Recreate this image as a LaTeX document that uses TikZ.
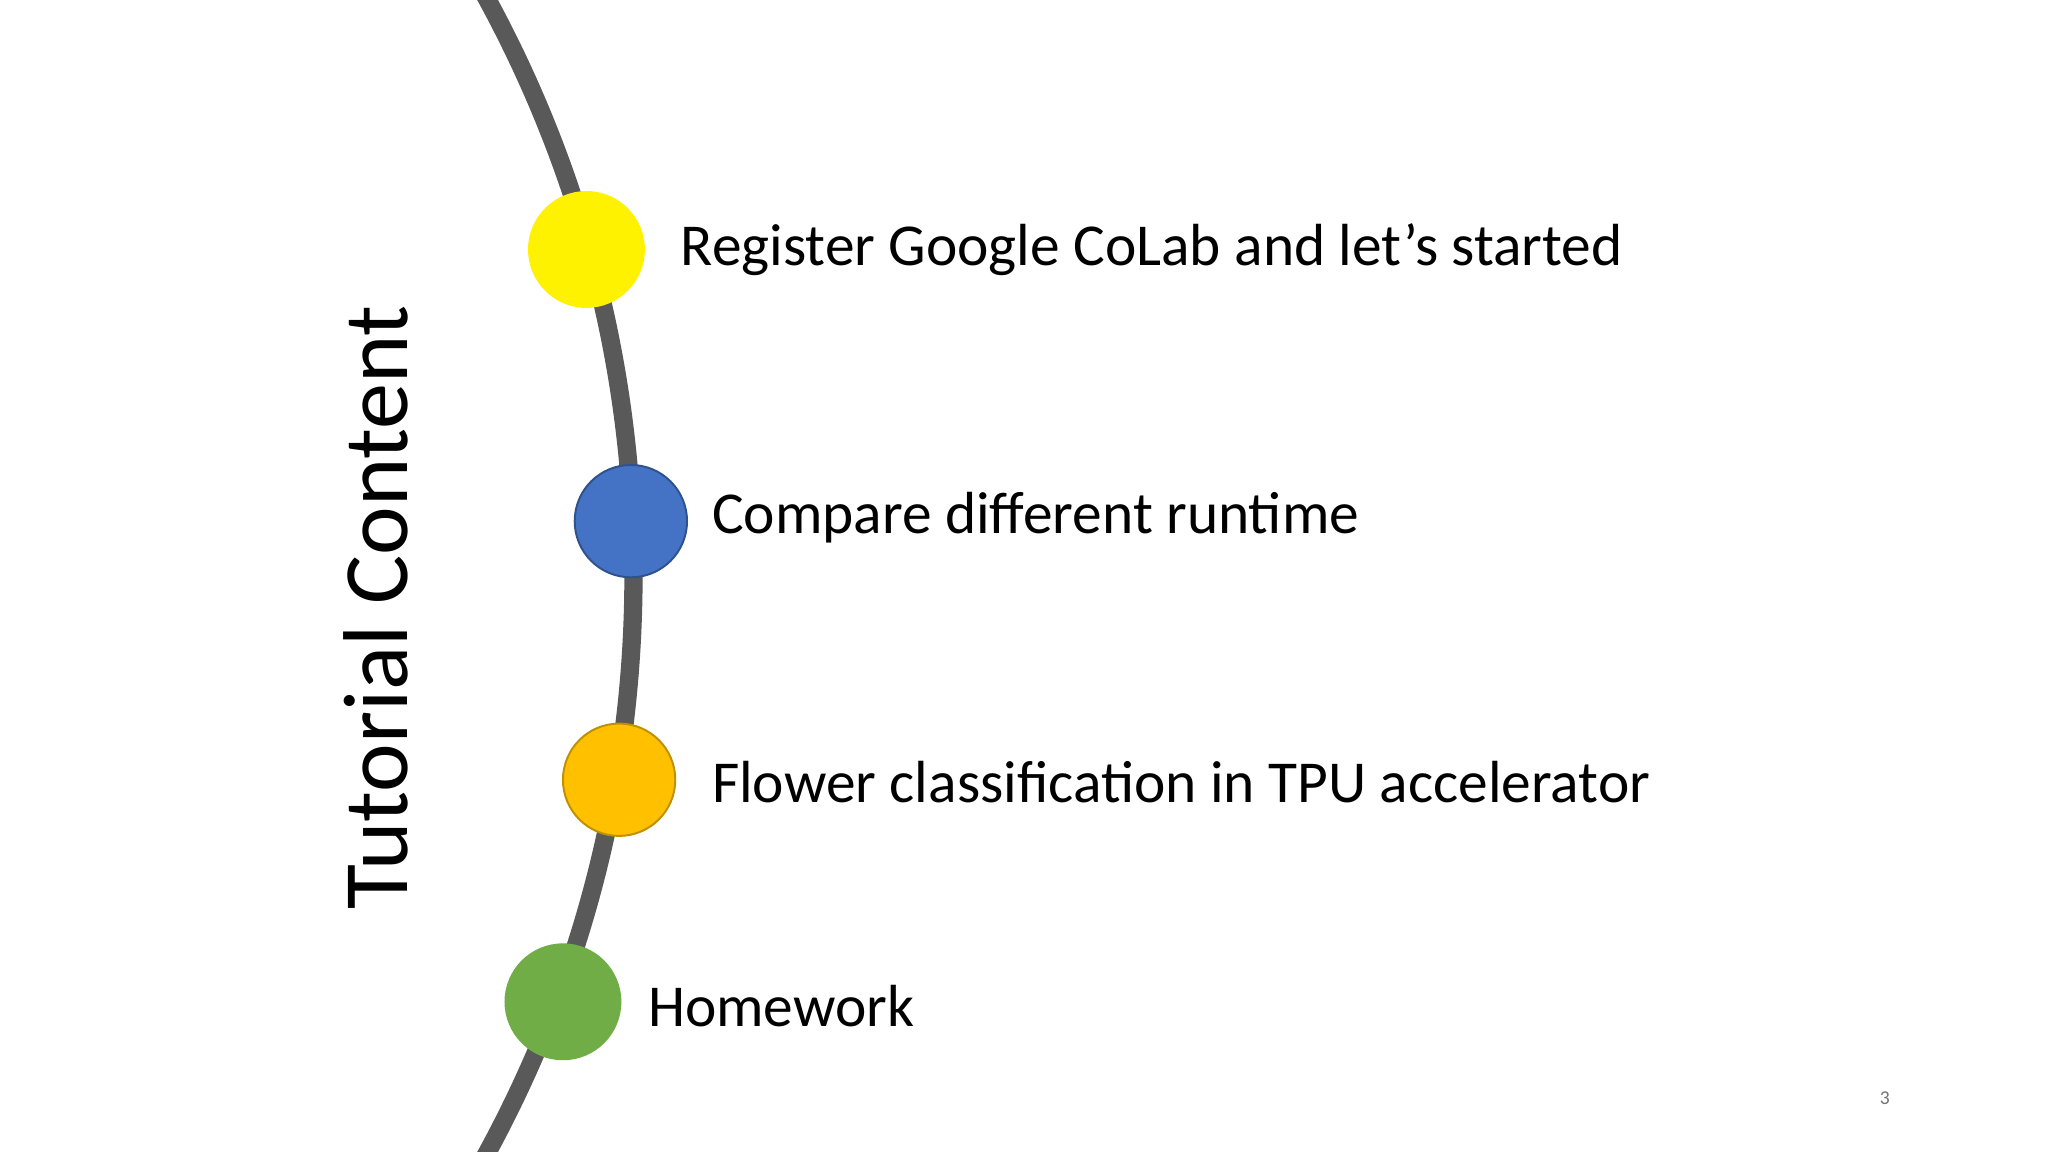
\documentclass[tikz,border=0pt]{standalone}
\usepackage{fontspec}
\setmainfont{Carlito}
\begin{document}
\begin{tikzpicture}[x=1pt,y=-1pt,
  dot/.style={circle,minimum size=86pt,inner sep=0pt,line width=1.5pt},
  lbl/.style={anchor=west,font=\fontsize{45.5}{50}\selectfont,inner sep=0pt}]
\useasboundingbox[fill=white] (0,0) rectangle (1568,882);
\begin{scope}
\clip (0,0) rectangle (1568,882);
\draw[line width=14pt,color=black!65] (-440,441) circle[radius=925];
\end{scope}
\node[dot,fill=yellow,draw=yellow,minimum width=88pt,minimum height=82pt] (a) at (449,191) {};
\node[dot,fill={rgb,255:red,68;green,114;blue,196},draw={rgb,255:red,47;green,82;blue,143}] (b) at (483,399) {};
\node[dot,fill={rgb,255:red,255;green,192;blue,0},draw={rgb,255:red,191;green,144;blue,0}] (c) at (474,597) {};
\node[dot,fill={rgb,255:red,112;green,173;blue,71},draw={rgb,255:red,112;green,173;blue,71},minimum width=88pt,minimum height=82pt] (d) at (431,767) {};
\node[lbl] (ta) at (521,191) {Register Google CoLab and let’s started};
\node[lbl] (tb) at (545,396) {Compare different runtime};
\node[lbl] (tc) at (545,599) {Flower classification in TPU accelerator};
\node[lbl] (td) at (496,770) {Homework};
\node[rotate=90,font=\fontsize{70.5}{76}\selectfont,inner sep=0pt] (title) at (288,465) {Tutorial Content};
\node[font=\fontsize{15}{18}\selectfont,text=black!55] (pg) at (1443,841) {3};
\end{tikzpicture}
\end{document}
